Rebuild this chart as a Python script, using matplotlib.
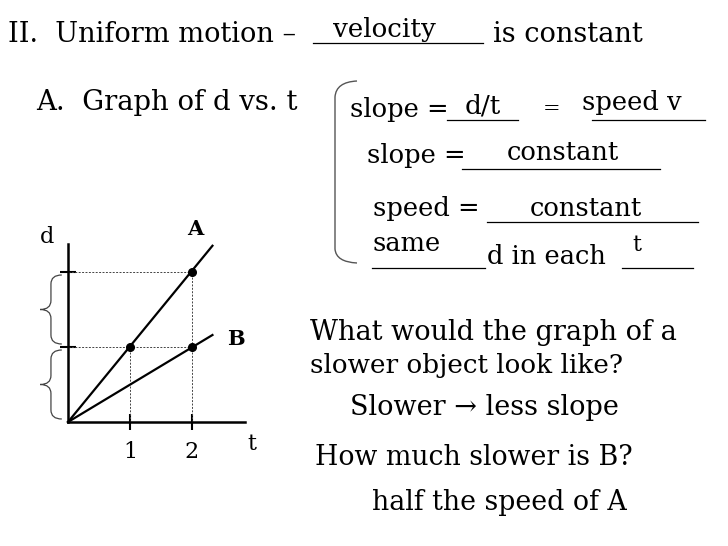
import matplotlib
matplotlib.use('Agg')
import matplotlib.pyplot as plt
from matplotlib.path import Path
from matplotlib.patches import PathPatch

# graph values (t, d)
t_ticks = [1, 2]
t_tick_labels = ['1', '2']
d_ticks = [1, 2]
line_t = [0, 2.33]
line_A = [0, 2.35]
line_B = [0, 1.16]
dot_t = [1, 2, 2]
dot_d = [1, 2, 1]
guide_d = [1, 2]        # horizontal dotted lines, out to t = 2
guide_t = [1, 2]        # vertical dotted lines
guide_t_top = [1, 2]    # height of each vertical dotted line

# slide text
title_left = 'II.  Uniform motion \u2013'
title_blank = 'velocity'
title_right = 'is constant'
sub_a = 'A.  Graph of d vs. t'
row1 = ['slope =', 'd/t', '=', 'speed v']
row2 = ['slope =', 'constant']
row3 = ['speed =', 'constant']
row4 = ['same', 'd in each', 't']
question1 = ['What would the graph of a', 'slower object look like?']
answer1 = 'Slower \u2192 less slope'
question2 = 'How much slower is B?'
answer2 = 'half the speed of A'

FONT = 'DejaVu Serif'

fig = plt.figure(figsize=(7.28, 5.46), dpi=100)
ax = fig.add_axes([0, 0, 1, 1])
ax.set_xlim(0, 728)
ax.set_ylim(546, 0)
ax.axis('off')
renderer = fig.canvas.get_renderer()


def put(x0, y, s, size, x1=None, weight='normal'):
    # text on its baseline; if x1 is given, scale the font to fill x0..x1
    txt = ax.text(x0, y, s, fontsize=size, ha='left', va='baseline',
                  family=FONT, weight=weight)
    if x1 is not None:
        w = txt.get_window_extent(renderer).width
        txt.set_fontsize(size * (x1 - x0) / w)
    return txt


def blank(x0, x1, y):
    ax.plot([x0, x1], [y, y], color='black', lw=0.9)


# header lines
put(8, 42, title_left, 20, 296)
put(333, 37, title_blank, 20, 435)
blank(313, 483, 43)
put(493, 42, title_right, 20, 643)
put(36, 110, sub_a, 20, 297)

# bracket
verts = [(357, 81), (336, 82), (335, 97), (335, 249), (336, 262), (357, 263)]
codes = [Path.MOVETO, Path.CURVE3, Path.CURVE3, Path.LINETO, Path.CURVE3, Path.CURVE3]
ax.add_patch(PathPatch(Path(verts, codes), fill=False, ec='#555555', lw=1.0))

BS = 18.5
put(350, 117, row1[0], BS)
put(465, 113, row1[1], 19)
blank(447, 518, 120)
put(543, 114, row1[2], 15)
put(582, 110, row1[3], BS)
blank(592, 705, 120)

put(367, 163, row2[0], BS)
put(507, 160, row2[1], BS)
blank(462, 660, 169)

put(373, 216, row3[0], BS)
put(530, 216, row3[1], BS)
blank(487, 698, 222)

put(372, 251, row4[0], BS)
blank(372, 485, 268)
put(487, 264, row4[1], BS)
put(632, 251, row4[2], 16)
blank(622, 693, 268)

# questions
put(310, 340, question1[0], 18, 677)
put(310, 373, question1[1], 18, 623)
put(350, 415, answer1, 18, 620)
put(315, 465, question2, 18, 633)
put(372, 510, answer2, 18, 627)

# d vs t graph
ox, oy, px_t, px_d = 68, 422, 62, 75
gw, gh = 177, 178
gx = fig.add_axes([ox / 728, (546 - oy) / 546, gw / 728, gh / 546])
gx.set_xlim(0, gw / px_t)
gx.set_ylim(0, gh / px_d)
gx.patch.set_alpha(0)
for side in ['top', 'right']:
    gx.spines[side].set_visible(False)
for side in ['left', 'bottom']:
    gx.spines[side].set_linewidth(1.8)
    gx.spines[side].set_capstyle('projecting')

gx.set_xticks(t_ticks)
gx.set_xticklabels(t_tick_labels, family=FONT, fontsize=16)
gx.set_yticks(d_ticks)
gx.set_yticklabels([])
gx.tick_params(axis='x', direction='inout', length=12, width=1.5, pad=8)
gx.tick_params(axis='y', direction='inout', length=11, width=1.5)

for d in guide_d:
    gx.plot([0, 2], [d, d], color='#444444', lw=0.7, ls=(0, (2, 1.5)))
for t, top in zip(guide_t, guide_t_top):
    gx.plot([t, t], [0, top], color='#444444', lw=0.7, ls=(0, (2, 1.5)))

gx.plot(line_t, line_A, color='black', lw=1.6, clip_on=False)
gx.plot(line_t, line_B, color='black', lw=1.6, clip_on=False)
gx.plot(dot_t, dot_d, 'o', color='black', ms=5.5, clip_on=False)

# braces beside the d axis
xt, xr = -0.45, -0.10
xm = (xt + xr) / 2
ry = 0.12
for lo in [0] + d_ticks[:-1]:
    y0, y1 = lo + 0.04, lo + 0.96
    ym = (y0 + y1) / 2
    bverts = [(xr, y0), (xm, y0), (xm, y0 + ry), (xm, ym - ry), (xm, ym), (xt, ym),
              (xm, ym), (xm, ym + ry), (xm, y1 - ry), (xm, y1), (xr, y1)]
    bcodes = [Path.MOVETO, Path.CURVE3, Path.CURVE3, Path.LINETO, Path.CURVE3, Path.CURVE3,
              Path.CURVE3, Path.CURVE3, Path.LINETO, Path.CURVE3, Path.CURVE3]
    gx.add_patch(PathPatch(Path(bverts, bcodes), fill=False, ec='#444444', lw=0.9,
                           clip_on=False))

gx.text(-0.34, 2.39, 'd', family=FONT, fontsize=16, ha='center', va='baseline')
gx.text(2.9, -0.37, 't', family=FONT, fontsize=16, ha='left', va='baseline')
gx.text(1.92, 2.49, 'A', family=FONT, fontsize=15, weight='bold', va='baseline')
gx.text(2.56, 1.03, 'B', family=FONT, fontsize=15, weight='bold', va='baseline')

fig.savefig('out.png', dpi=100)
